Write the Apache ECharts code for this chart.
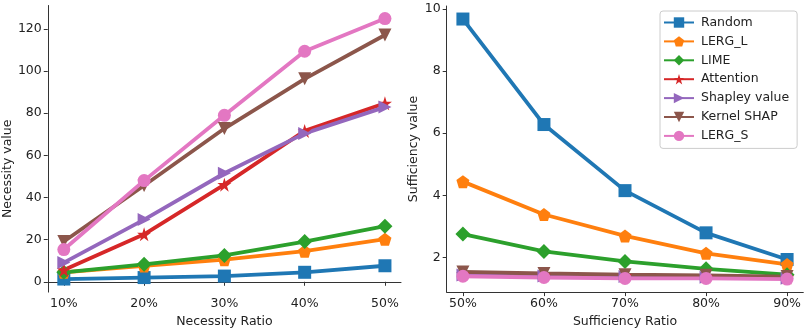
<!DOCTYPE html>
<html>
<head>
<meta charset="utf-8">
<script src="https://cdn.jsdelivr.net/npm/echarts@6/dist/echarts.min.js"></script>
<style>
  html, body { margin: 0; padding: 0; background: #fff; }
  #chart { width: 807px; height: 333px; }
</style>
</head>
<body>
<div id="chart"></div>
<script>
// x positions (percent)
var necessityRatios = [10, 20, 30, 40, 50];
var sufficiencyRatios = [50, 60, 70, 80, 90];

var methodNames = ['Random', 'LERG_L', 'LIME', 'Attention', 'Shapley value', 'Kernel SHAP', 'LERG_S'];

// necessity values (left panel)
var necRandom    = [1.3, 2.0, 2.7, 4.5, 7.6];
var necLergL     = [4.5, 7.5, 10.5, 14.5, 20.2];
var necLime      = [4.5, 8.3, 12.5, 19.1, 26.4];
var necAttention = [5.6, 22.5, 46.1, 71.6, 84.7];
var necShapley   = [9.1, 29.5, 51.5, 70.4, 82.9];
var necKernel    = [19.1, 45.7, 72.7, 96.3, 117.1];
var necLergS     = [15.3, 48.0, 79.0, 109.4, 124.9];

// sufficiency values (right panel)
var sufRandom    = [9.68, 6.28, 4.15, 2.79, 1.93];
var sufLergL     = [4.44, 3.38, 2.69, 2.13, 1.77];
var sufLime      = [2.75, 2.19, 1.87, 1.63, 1.44];
var sufAttention = [1.46, 1.42, 1.40, 1.38, 1.35];
var sufShapley   = [1.43, 1.40, 1.38, 1.36, 1.33];
var sufKernel    = [1.53, 1.48, 1.44, 1.42, 1.38];
var sufLergS     = [1.39, 1.35, 1.32, 1.32, 1.30];

var necTicks = [0, 20, 40, 60, 80, 100, 120];
var sufTicks = [2, 4, 6, 8, 10];

var colors = ['#1f77b4', '#ff7f0e', '#2ca02c', '#d62728', '#9467bd', '#8c564b', '#e377c2'];
var symbols = [
  'rect',
  'path://M0,-1 L0.951,-0.309 L0.588,0.809 L-0.588,0.809 L-0.951,-0.309 Z',
  'diamond',
  'path://M0,-1 L0.2245,-0.309 L0.951,-0.309 L0.363,0.118 L0.588,0.809 L0,0.382 L-0.588,0.809 L-0.363,0.118 L-0.951,-0.309 L-0.2245,-0.309 Z',
  'path://M0,0 L1,0.5 L0,1 Z',
  'path://M0,0 L1,0 L0.5,1 Z',
  'circle'
];
var symbolSizes = [13, 13, 15, 14, 13, 13, 13];

var necData = [necRandom, necLergL, necLime, necAttention, necShapley, necKernel, necLergS];
var sufData = [sufRandom, sufLergL, sufLime, sufAttention, sufShapley, sufKernel, sufLergS];

function pairs(xs, ys) {
  var out = [];
  for (var i = 0; i < xs.length; i++) out.push([xs[i], ys[i]]);
  return out;
}

var textColor = '#222';
var font = 'DejaVu Sans';

function xAxisFor(idx, lo, hi, ticks, name) {
  return {
    type: 'value', gridIndex: idx, min: lo, max: hi,
    name: name, nameLocation: 'middle', nameGap: 21,
    nameTextStyle: { color: textColor, fontSize: 12.5, fontFamily: font },
    axisLine: { show: true, lineStyle: { color: '#333', width: 1 } },
    axisTick: { show: true, length: 4, lineStyle: { color: '#333' }, customValues: ticks },
    axisLabel: { color: textColor, fontSize: 12.5, fontFamily: font, margin: 5, customValues: ticks,
      formatter: function (v) { return v + '%'; } },
    splitLine: { show: false }
  };
}

function yAxisFor(idx, lo, hi, ticks, name, gap, namePad) {
  return {
    type: 'value', gridIndex: idx, min: lo, max: hi,
    name: name, nameLocation: 'middle', nameGap: gap,
    nameTextStyle: { color: textColor, fontSize: 12.5, fontFamily: font, padding: namePad },
    axisLine: { show: true, lineStyle: { color: '#333', width: 1 } },
    axisTick: { show: true, length: 4, lineStyle: { color: '#333' }, customValues: ticks },
    axisLabel: { color: textColor, fontSize: 12.5, fontFamily: font, margin: 6, customValues: ticks },
    splitLine: { show: false }
  };
}

var series = [];
for (var k = 0; k < methodNames.length; k++) {
  var base = {
    name: methodNames[k], type: 'line',
    symbol: symbols[k], symbolSize: symbolSizes[k], showSymbol: true,
    lineStyle: { width: 3.8, color: colors[k] },
    itemStyle: { color: colors[k] },
    emphasis: { disabled: true }
  };
  series.push(Object.assign({}, base, { xAxisIndex: 0, yAxisIndex: 0, data: pairs(necessityRatios, necData[k]) }));
  series.push(Object.assign({}, base, { xAxisIndex: 1, yAxisIndex: 1, data: pairs(sufficiencyRatios, sufData[k]) }));
}

var chart = echarts.init(document.getElementById('chart'));
chart.setOption({
  animation: false,
  backgroundColor: '#fff',
  grid: [
    { left: 44, right: 406, top: 5.5, bottom: 33.7 },
    { left: 446.7, right: 3.7, top: 6, bottom: 34 }
  ],
  xAxis: [
    xAxisFor(0, 8, 52, necessityRatios, 'Necessity Ratio'),
    xAxisFor(1, 48, 92, sufficiencyRatios, 'Sufficiency Ratio')
  ],
  yAxis: [
    yAxisFor(0, -4.9, 131.1, necTicks, 'Necessity value', 30, [0, 40, 0, 0]),
    yAxisFor(1, 0.88, 10.1, sufTicks, 'Sufficiency value', 26, 0)
  ],
  legend: {
    data: methodNames,
    left: 660, top: 11,
    orient: 'vertical',
    itemWidth: 30, itemHeight: 13, itemGap: 5.9,
    padding: [5, 8, 6, 3],
    borderColor: '#ccc', borderWidth: 1, borderRadius: 3,
    backgroundColor: 'rgba(255,255,255,0.8)',
    textStyle: { color: textColor, fontSize: 12.5, fontFamily: font, padding: [0, 0, 0, 2] }
  },
  series: series
});
</script>
</body>
</html>
